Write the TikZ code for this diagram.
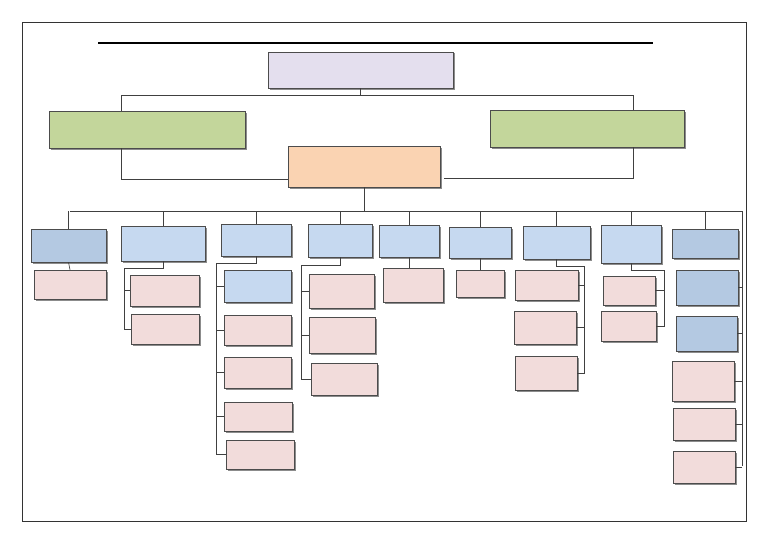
\documentclass[tikz,border=0pt]{standalone}
\usetikzlibrary{shadows}
\begin{document}
\begin{tikzpicture}[x=1pt,y=-1pt,
  box/.style={draw=black!70,line width=0.5pt,inner sep=0pt,
    drop shadow={shadow xshift=1.5pt,shadow yshift=-1.5pt,fill=black!45,opacity=1}},
  ln/.style={draw=black!75,line width=0.6pt}]
\definecolor{cpur}{HTML}{E4DFEE}
\definecolor{cgrn}{HTML}{C3D69B}
\definecolor{corg}{HTML}{FAD3B2}
\definecolor{cblu}{HTML}{C6D9F0}
\definecolor{cdbl}{HTML}{B4C9E2}
\definecolor{cpnk}{HTML}{F2DCDB}
\newcommand\bx[6]{\node[box,fill=#6,minimum width={(#4-#2)*1pt},minimum height={(#5-#3)*1pt}] (#1) at ({(#2+#4)/2},{(#3+#5)/2}) {};}
\useasboundingbox (0,0) rectangle (768,543);
\fill[white] (0,0) rectangle (768,543);
\draw[black!80,line width=0.6pt] (22,22) rectangle (746,521);
\coordinate (la) at (98,43); \coordinate (lb) at (653,43);
\draw[line width=1.6pt] (la) -- (lb);
% boxes
\bx{top}{268}{52}{453}{88}{cpur}
\bx{gl}{49}{111}{245}{148}{cgrn}
\bx{gr}{490}{110}{684}{147}{cgrn}
\bx{org}{288}{146}{440}{187}{corg}
\bx{a}{31}{229}{106}{262}{cdbl}
\bx{b}{121}{226}{205}{261}{cblu}
\bx{c}{221}{224}{291}{256}{cblu}
\bx{d}{308}{224}{372}{257}{cblu}
\bx{e}{379}{225}{439}{257}{cblu}
\bx{f}{449}{227}{511}{258}{cblu}
\bx{g}{523}{226}{590}{259}{cblu}
\bx{h}{601}{225}{661}{263}{cblu}
\bx{i}{672}{229}{738}{258}{cdbl}
\bx{a1}{34}{270}{106}{299}{cpnk}
\bx{b1}{130}{275}{199}{306}{cpnk}
\bx{b2}{131}{314}{199}{344}{cpnk}
\bx{c1}{224}{270}{291}{302}{cblu}
\bx{c2}{224}{315}{291}{345}{cpnk}
\bx{c3}{224}{357}{291}{388}{cpnk}
\bx{c4}{224}{402}{292}{431}{cpnk}
\bx{c5}{226}{440}{294}{469}{cpnk}
\bx{d1}{309}{274}{374}{308}{cpnk}
\bx{d2}{309}{317}{375}{353}{cpnk}
\bx{d3}{311}{363}{377}{395}{cpnk}
\bx{e1}{383}{268}{443}{302}{cpnk}
\bx{f1}{456}{270}{504}{297}{cpnk}
\bx{g1}{515}{270}{578}{300}{cpnk}
\bx{g2}{514}{311}{576}{344}{cpnk}
\bx{g3}{515}{356}{577}{390}{cpnk}
\bx{h1}{603}{276}{655}{305}{cpnk}
\bx{h2}{601}{311}{656}{341}{cpnk}
\bx{i1}{676}{270}{738}{305}{cdbl}
\bx{i2}{676}{316}{737}{351}{cdbl}
\bx{i3}{672}{361}{734}{401}{cpnk}
\bx{i4}{673}{408}{735}{440}{cpnk}
\bx{i5}{673}{451}{735}{483}{cpnk}
% connectors
\coordinate (gla) at (121,95); \coordinate (gra) at (633,95);
\coordinate (glb) at (121,179); \coordinate (grb) at (633,178);
\draw[ln] (top.south) -- (top.south |- gla);
\draw[ln] (gla |- gl.north) -- (gla) -- (gra) -- (gra |- gr.north);
\draw[ln] (glb |- gl.south) -- (glb) -- (glb -| org.west);
\draw[ln] (grb |- gr.south) -- (grb) -- ([xshift=4pt]grb -| org.east);
\coordinate (t0) at (70,211); \coordinate (t1) at (742,211); \coordinate (t2) at (742,466);
\draw[ln] (org.south) -- (org.south |- t0);
\draw[ln] (t0) -- (t1) -- (t2);
\foreach \n in {a,b,c,d,e,f,g,h,i} \draw[ln] (\n.north |- t0) -- (\n.north);
\draw[ln] (a.south) -- (a1.north);
\draw[ln] (e.south) -- (e.south |- e1.north);
\draw[ln] (f.south) -- (f.south |- f1.north);
% col b
\coordinate (bt) at (124,268);
\draw[ln] (b.south) |- (bt) |- (b2.west); \draw[ln] (bt |- b1.west) -- (b1.west);
% col c
\coordinate (ct) at (216,263);
\draw[ln] (c.south) |- (ct) |- (c5.west);
\foreach \n in {c1,c2,c3,c4} \draw[ln] (ct |- \n.west) -- (\n.west);
% col d
\coordinate (dt) at (301,265);
\draw[ln] (d.south) |- (dt) |- (d3.west);
\foreach \n in {d1,d2} \draw[ln] (dt |- \n.west) -- (\n.west);
% col g
\coordinate (gt) at (584,266);
\draw[ln] (g.south) |- (gt) |- (g3.east);
\foreach \n in {g1,g2} \draw[ln] (gt |- \n.east) -- (\n.east);
% col h
\coordinate (ht) at (664,270);
\draw[ln] (h.south) |- (ht) |- (h2.east);
\draw[ln] (ht |- h1.east) -- (h1.east);
% col i
\foreach \n in {i1,i2,i3,i4,i5} \draw[ln] (t1 |- \n.east) -- (\n.east);
\end{tikzpicture}
\end{document}
